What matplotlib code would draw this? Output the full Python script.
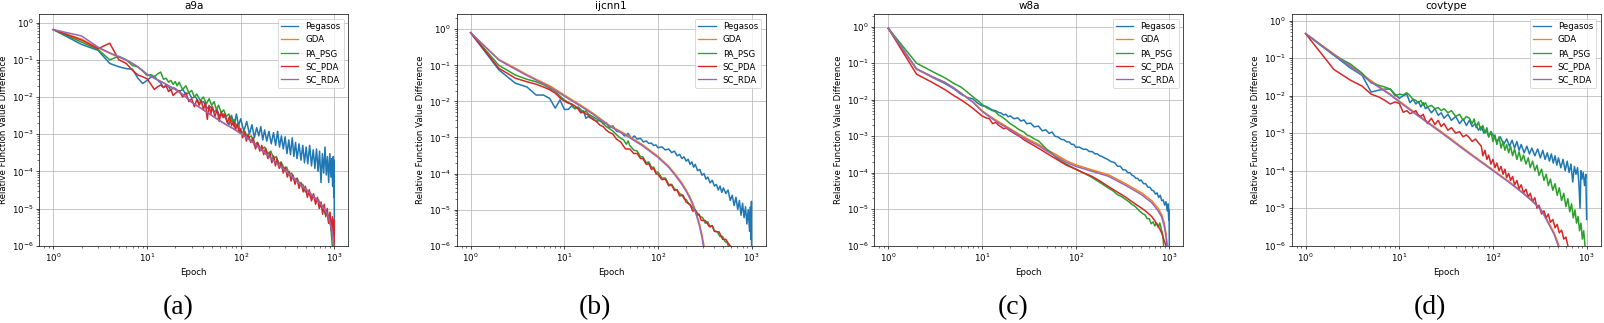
import matplotlib.pyplot as plt

# scale factor of the original 6.4x4.8in panels shrunk into this strip
s = 0.625
plt.rcParams.update({
    'font.size': 10 * s,
    'axes.titlesize': 12 * s,
    'axes.labelsize': 10 * s,
    'xtick.labelsize': 10 * s,
    'ytick.labelsize': 10 * s,
    'legend.fontsize': 10 * s,
    'lines.linewidth': 1.1,
    'axes.linewidth': 0.8 * s,
    'grid.linewidth': 0.8 * s,
    'patch.linewidth': 1.0 * s,
    'xtick.major.size': 3.5 * s, 'ytick.major.size': 3.5 * s,
    'xtick.minor.size': 2 * s, 'ytick.minor.size': 2 * s,
    'xtick.major.width': 0.8 * s, 'ytick.major.width': 0.8 * s,
    'xtick.minor.width': 0.6 * s, 'ytick.minor.width': 0.6 * s,
    'xtick.major.pad': 3.5 * s, 'ytick.major.pad': 3.5 * s,
    'axes.titlepad': 6 * s,
    'axes.labelpad': 4 * s,
})

methods = ['Pegasos', 'GDA', 'PA_PSG', 'SC_PDA', 'SC_RDA']
colors = ['C0', 'C1', 'C2', 'C3', 'C4']
datasets = ['a9a', 'ijcnn1', 'w8a', 'covtype']
sub_labels = ['(a)', '(b)', '(c)', '(d)']
ylim_top = [1.68, 2.6, 2.19, 1.48]

# ---------------- a9a ----------------
a9a_pegasos = [(1, .65), (2, .26), (3, .18), (4, .08), (5, .065), (6, .058), (7, .056), (8, .032), (9, .023),
               (10, .028), (11, .034), (12, .036), (13, .028), (14, .024), (15, .018), (16, .021), (17, .019),
               (18, .015), (19, .018), (20, .017), (22, .014), (24, .016), (26, .012), (28, .013), (30, .0095),
               (33, .01), (36, .007), (40, .0075), (44, .005), (48, .0055), (52, .004), (56, .0045), (60, .003),
               (65, .0035), (70, .0025), (75, .0018), (80, .0032), (85, .0016), (90, .0035), (95, .0017),
               (100, .0026), (108, .0012), (116, .0022), (124, .001), (132, .0018), (140, .0008), (148, .0015),
               (156, .0009), (164, .0016), (172, .0007), (180, .0013), (190, .00065), (200, .0012), (212, .00055),
               (224, .0011), (236, .0005), (248, .0012), (260, .00045), (272, .0009), (285, .0004), (298, .00085),
               (312, .0003), (326, .0007), (340, .00028), (355, .0008), (370, .00025), (385, .0006), (400, .00022),
               (420, .00055), (440, .0002), (460, .0005), (480, .00017), (500, .00045), (520, .00016), (545, .0005),
               (570, .00014), (595, .00038), (620, .00012), (645, .0004), (670, .0001), (695, .00035), (720, 5e-5),
               (745, .0003), (770, 9e-5), (795, .00045), (820, 8e-5), (845, .00025), (870, 5e-5), (895, .0003),
               (920, 7e-5), (940, .00022), (960, 4e-5), (975, .00025), (985, 2e-5), (995, .0002), (1000, 2e-6)]
a9a_gda = [(1, .65), (2, .36), (3, .21), (4, .15), (5, .118), (6, .098), (7, .079), (8, .064), (10, .041),
           (12, .032), (15, .024), (20, .016), (25, .011), (30, .0072), (40, .0045), (50, .0031), (60, .0023),
           (70, .0018), (80, .0015), (100, .00105), (130, .00065), (160, .00042), (190, .00028), (223, .0002),
           (260, .00014), (300, .000105), (336, 8e-5), (400, 5.5e-5), (450, 4e-5), (505, 3.2e-5), (600, 2.1e-5),
           (700, 1.4e-5), (760, 1.1e-5), (820, 8e-6), (863, 5.9e-6), (900, 4e-6), (933, 3e-6), (960, 2e-6),
           (980, 1.2e-6), (1000, 6e-7)]
a9a_pa_psg = [(1, .65), (2, .3), (3, .19), (4, .1), (5, .125), (6, .1), (7, .07), (8, .065), (9, .05), (10, .038),
              (11, .04), (12, .035), (13, .042), (14, .047), (15, .03), (16, .032), (17, .025), (18, .028),
              (19, .022), (20, .026), (21, .02), (22, .025), (24, .016), (26, .02), (28, .013), (30, .015),
              (32, .01), (34, .012), (37, .008), (40, .01), (43, .0065), (46, .009), (49, .006), (52, .0075),
              (55, .0045), (58, .006), (62, .0038), (66, .0045), (70, .003), (75, .0035), (80, .0022), (85, .0025),
              (90, .0016), (95, .0018), (100, .0011), (110, .0012), (120, .0008), (130, .0009), (140, .0005),
              (150, .0006), (165, .00038), (180, .00045), (195, .0003), (210, .00035), (225, .00022), (240, .00025),
              (255, .00016), (270, .00018), (290, .00012), (310, .00013), (330, 8e-5), (350, 9e-5), (375, 6e-5),
              (400, 6.5e-5), (430, 4.5e-5), (460, 4.5e-5), (490, 2.8e-5), (520, 3e-5), (560, 2e-5), (600, 2.2e-5),
              (640, 1.5e-5), (680, 1.7e-5), (720, 1.1e-5), (760, 1.2e-5), (800, 7e-6), (840, 8e-6), (870, 4e-6),
              (900, 5e-6), (930, 2e-6), (950, 1e-6), (970, 5e-7)]
a9a_sc_pda = [(1, .65), (2, .34), (3, .2), (4, .28), (5, .1), (6, .08), (7, .052), (8, .039), (9, .035), (10, .031),
              (11, .022), (12, .016), (13, .019), (14, .021), (15, .018), (16, .02), (17, .014), (18, .016),
              (19, .011), (20, .0125), (22, .015), (24, .01), (26, .013), (28, .0075), (30, .009), (32, .0055),
              (34, .0085), (36, .006), (38, .008), (40, .0045), (42, .007), (44, .0025), (46, .006), (48, .0035),
              (50, .0055), (53, .003), (56, .0045), (59, .0022), (62, .004), (65, .0028), (68, .0035), (72, .002),
              (76, .003), (80, .0017), (84, .0022), (88, .0013), (92, .0019), (96, .0011), (100, .0014),
              (105, .0008), (110, .0012), (115, .00065), (120, .001), (128, .0006), (136, .0008), (144, .0004),
              (152, .0006), (160, .00035), (168, .0005), (176, .00028), (185, .00042), (195, .00022), (205, .00032),
              (215, .00017), (225, .00026), (235, .00014), (245, .00022), (258, .00012), (270, .00017), (285, 9e-5),
              (300, .00013), (315, 7e-5), (330, .0001), (345, 5.5e-5), (360, 8e-5), (380, 4.5e-5), (400, 6.5e-5),
              (420, 3.5e-5), (440, 5e-5), (465, 2.8e-5), (490, 4e-5), (515, 2e-5), (540, 3.2e-5), (570, 1.6e-5),
              (600, 2.5e-5), (630, 1.3e-5), (660, 2e-5), (690, 1e-5), (720, 1.5e-5), (750, 7e-6), (780, 1.3e-5),
              (810, 6e-6), (840, 1e-5), (870, 4e-6), (900, 8e-6), (930, 2.5e-6), (955, 6e-6), (975, 1.8e-6),
              (990, 5e-6), (1000, 8e-7)]
a9a_sc_rda = [(1, .65), (2, .44), (3, .22), (4, .155), (5, .12), (6, .1), (7, .08), (8, .065), (10, .041),
              (12, .032), (15, .024), (20, .016), (25, .011), (30, .0072), (40, .0045), (50, .0031), (60, .0023),
              (70, .0018), (80, .0015), (100, .00105), (130, .00065), (160, .00042), (190, .00028), (223, .0002),
              (260, .00014), (300, .000105), (336, 8e-5), (400, 5.5e-5), (450, 4e-5), (505, 3.2e-5), (600, 2.1e-5),
              (700, 1.4e-5), (760, 1.1e-5), (820, 8e-6), (863, 5.9e-6), (900, 4e-6), (933, 3e-6), (960, 2e-6),
              (980, 1.2e-6), (1000, 6e-7)]

# ---------------- ijcnn1 ----------------
ijcnn1_pegasos = [(1, .8), (2, .075), (3, .032), (4, .025), (5, .015), (6, .015), (7, .012), (8, .0065), (9, .011),
                  (10, .006), (11, .006), (12, .0075), (13, .0062), (14, .0068), (15, .0052), (16, .0055),
                  (17, .0034), (18, .0038), (19, .0035), (20, .0034), (22, .0028), (24, .003), (26, .0024),
                  (28, .0026), (30, .0019), (33, .0021), (36, .0015), (40, .0014), (44, .0011), (48, .0013),
                  (52, .00095), (56, .0011), (60, .0009), (65, .00095), (70, .00075), (75, .0008), (80, .00068),
                  (85, .0007), (90, .0006), (95, .00062), (100, .00052), (110, .00055), (120, .00045), (130, .00048),
                  (140, .00038), (150, .00042), (160, .00031), (170, .00034), (180, .00026), (190, .00029),
                  (200, .00022), (210, .00025), (220, .00018), (230, .00021), (240, .00015), (250, .00018),
                  (265, .00012), (280, .00013), (295, 9e-5), (310, .0001), (325, 7e-5), (340, 8e-5), (360, 5.5e-5),
                  (380, 6.5e-5), (400, 4.5e-5), (420, 5e-5), (440, 3.5e-5), (460, 4.5e-5), (480, 3e-5), (500, 4e-5),
                  (530, 2.8e-5), (560, 3.5e-5), (590, 1.8e-5), (620, 2.5e-5), (650, 1.3e-5), (680, 2.2e-5),
                  (710, 1e-5), (740, 1.8e-5), (770, 7e-6), (800, 1.5e-5), (830, 6e-6), (860, 1.2e-5), (890, 4e-6),
                  (920, 1e-5), (950, 2.5e-6), (970, 1.2e-5), (985, 1.5e-6), (995, 1.7e-5), (1000, 5e-7)]
ijcnn1_gda = [(1, .8), (2, .145), (3, .083), (4, .055), (5, .041), (7, .027), (10, .015), (15, .0078), (20, .0048),
              (30, .0022), (46, .0012), (69, .00062), (100, .0003), (130, .00016), (156, 9e-5), (180, 5.5e-5),
              (200, 3.5e-5), (220, 2.2e-5), (235, 1.5e-5), (255, 8.5e-6), (276, 4.2e-6), (295, 2e-6), (310, 1e-6),
              (325, 5e-7)]
ijcnn1_pa_psg = [(1, .8), (2, .1), (3, .054), (4, .041), (5, .035), (6, .029), (7, .023), (8, .019), (9, .014),
                 (10, .011), (11, .0095), (12, .008), (13, .0065), (14, .007), (15, .006), (16, .0048), (17, .0055),
                 (18, .0045), (20, .0038), (22, .0033), (25, .0027), (28, .002), (30, .0018), (33, .0015),
                 (36, .0012), (40, .00095), (43, .00085), (46, .00065), (48, .0008), (50, .0006), (55, .00045),
                 (60, .00042), (65, .00029), (69, .00029), (75, .0002), (80, .00021), (85, .00015), (90, .00015),
                 (95, .00011), (100, .00011), (110, 7.5e-5), (120, 7.5e-5), (130, 5e-5), (140, 5e-5), (150, 3.7e-5),
                 (160, 3.5e-5), (170, 2.8e-5), (180, 2.6e-5), (190, 2e-5), (200, 1.9e-5), (215, 1.4e-5),
                 (230, 1.2e-5), (245, 1e-5), (260, 8.5e-6), (280, 6.5e-6), (300, 6e-6), (320, 4.2e-6),
                 (340, 4.6e-6), (360, 3.3e-6), (380, 3.5e-6), (400, 2.6e-6), (430, 2.4e-6), (460, 1.8e-6),
                 (490, 1.8e-6), (520, 1.3e-6), (550, 1.2e-6), (580, 8e-7), (600, 5e-7)]
ijcnn1_sc_pda = [(1, .8), (2, .083), (3, .044), (4, .035), (5, .03), (6, .025), (7, .021), (8, .017), (9, .0125),
                 (10, .0102), (11, .009), (12, .0085), (13, .0075), (14, .0062), (15, .0048), (16, .0052),
                 (17, .0045), (18, .0042), (20, .0032), (22, .0028), (24, .0022), (26, .002), (28, .0016),
                 (30, .0014), (33, .00125), (36, .0009), (40, .00075), (45, .00048), (50, .00048), (55, .00036),
                 (60, .00036), (65, .00026), (69, .00026), (75, .00018), (80, .00019), (85, .00013), (90, .00014),
                 (95, .0001), (100, 9.5e-5), (110, 6.8e-5), (120, 7e-5), (130, 4.6e-5), (140, 4.8e-5),
                 (150, 3.4e-5), (160, 3.5e-5), (170, 2.4e-5), (185, 2.5e-5), (200, 1.6e-5), (220, 1.4e-5),
                 (235, 9e-6), (250, 1e-5), (260, 7e-6), (275, 7.5e-6), (290, 5e-6), (320, 5e-6), (353, 3.4e-6),
                 (380, 3.6e-6), (400, 2.5e-6), (450, 2.4e-6), (490, 1.5e-6), (530, 1.5e-6), (570, 1.1e-6),
                 (615, 9e-7), (640, 5e-7)]
ijcnn1_sc_rda = [(1, .8), (2, .14), (3, .078), (4, .052), (5, .039), (7, .025), (10, .014), (15, .0073),
                 (20, .0045), (30, .0021), (46, .00112), (69, .00058), (100, .00028), (130, .00015), (156, 8.3e-5),
                 (180, 5e-5), (200, 3.2e-5), (220, 2e-5), (235, 1.35e-5), (255, 7.5e-6), (276, 3.7e-6),
                 (295, 1.7e-6), (305, 1e-6), (315, 5e-7)]

# ---------------- w8a ----------------
w8a_pegasos = [(1, .9), (2, .07), (3, .04), (4, .028), (5, .02), (6, .014), (7, .0115), (8, .0105), (9, .008),
               (10, .0068), (11, .0066), (12, .0058), (13, .0052), (14, .005), (15, .0045), (16, .0043),
               (17, .0038), (18, .004), (19, .0034), (20, .0036), (22, .003), (24, .0032), (26, .0026), (28, .0028),
               (30, .0022), (33, .0023), (36, .0018), (40, .0019), (44, .0014), (48, .0015), (52, .0012),
               (56, .0013), (60, .001), (65, .00095), (70, .00082), (75, .0008), (80, .0007), (85, .0007),
               (90, .0006), (95, .0006), (100, .0005), (110, .0005), (120, .00044), (130, .00044), (140, .00038),
               (150, .00038), (160, .00033), (170, .00033), (180, .00029), (190, .00028), (200, .00026),
               (220, .00023), (240, .0002), (260, .00019), (280, .00015), (300, .00015), (320, .00012),
               (340, .00012), (360, .0001), (380, .0001), (400, 8.5e-5), (420, 8e-5), (440, 7e-5), (460, 7e-5),
               (480, 6e-5), (500, 6.3e-5), (530, 5e-5), (560, 5e-5), (590, 4e-5), (620, 4e-5), (650, 3.3e-5),
               (680, 3.2e-5), (710, 2.6e-5), (740, 2.8e-5), (770, 2.1e-5), (800, 2.4e-5), (830, 1.7e-5),
               (860, 1.8e-5), (890, 1.3e-5), (920, 1.6e-5), (950, 9e-6), (970, 1.4e-5), (985, 5e-6), (995, 1e-5),
               (1000, 7e-7)]
w8a_gda = [(1, .9), (2, .068), (3, .041), (4, .03), (5, .021), (6, .015), (7, .0112), (8, .0087), (10, .005),
           (12, .0036), (15, .0025), (20, .0016), (25, .00113), (30, .00087), (40, .0006), (50, .00042),
           (65, .00029), (80, .00021), (100, .000165), (148, .00012), (223, 8.8e-5), (336, 5.1e-5), (505, 2.8e-5),
           (650, 1.7e-5), (760, 1.05e-5), (830, 7e-6), (880, 4.2e-6), (920, 2.2e-6), (955, 1e-6), (970, 6e-7)]
w8a_pa_psg = [(1, .9), (2, .1), (3, .058), (4, .04), (5, .028), (6, .022), (7, .016), (8, .012), (9, .0095),
              (10, .0075), (11, .0062), (12, .0055), (14, .0046), (15, .0038), (16, .0035), (18, .0028),
              (20, .0022), (22, .0019), (25, .0015), (28, .0013), (30, .0011), (33, .00098), (36, .00085),
              (40, .00075), (43, .00062), (46, .00052), (50, .00042), (55, .00035), (60, .00028), (65, .00024),
              (72, .0002), (80, .00017), (90, .000145), (100, .000125), (115, .000105), (130, 9e-5), (148, 7.5e-5),
              (170, 6e-5), (195, 4.8e-5), (223, 3.8e-5), (250, 3.2e-5), (280, 2.5e-5), (310, 2.2e-5),
              (336, 1.9e-5), (370, 1.6e-5), (400, 1.35e-5), (430, 1.2e-5), (460, 1e-5), (490, 8.5e-6),
              (520, 7.5e-6), (550, 7e-6), (580, 5.5e-6), (610, 5.5e-6), (640, 4e-6), (670, 4.5e-6), (700, 3.5e-6),
              (730, 4.2e-6), (760, 3.2e-6), (790, 4.2e-6), (820, 2.8e-6), (845, 2.2e-6), (865, 1.2e-6),
              (880, 6e-7)]
w8a_sc_pda = [(1, .9), (2, .05), (3, .029), (4, .019), (5, .013), (6, .0098), (7, .0075), (8, .0058), (9, .0045),
              (10, .0036), (11, .0032), (12, .003), (13, .0022), (14, .0024), (15, .002), (16, .0018), (17, .0016),
              (18, .0017), (20, .0014), (22, .0012), (25, .001), (28, .0008), (30, .00072), (36, .00055),
              (43, .00042), (50, .00033), (57, .00027), (65, .00022), (80, .00016), (100, .000125), (120, .0001),
              (148, 8e-5), (180, 6e-5), (223, 4.2e-5), (270, 3.1e-5), (336, 2.2e-5), (400, 1.6e-5), (450, 1.3e-5),
              (505, 1.07e-5), (570, 8.5e-6), (648, 6.3e-6), (700, 4.8e-6), (760, 3.4e-6), (800, 2.7e-6),
              (830, 2.2e-6), (880, 1.4e-6), (920, 1e-6), (935, 6e-7)]
w8a_sc_rda = [(1, .9), (2, .07), (3, .042), (4, .03), (5, .021), (6, .015), (7, .011), (8, .0085), (10, .0048),
              (12, .0034), (15, .0023), (20, .0015), (25, .00105), (30, .0008), (40, .00055), (50, .00038),
              (65, .00026), (80, .00019), (100, .00015), (148, .00011), (223, 8e-5), (336, 4.6e-5), (505, 2.5e-5),
              (650, 1.5e-5), (760, 9e-6), (830, 6e-6), (880, 3.5e-6), (920, 1.8e-6), (950, 8e-7)]

# ---------------- covtype ----------------
covtype_pegasos = [(1, .45), (2, .12), (3, .055), (4, .035), (5, .0125), (6, .014), (7, .015), (8, .015),
                   (9, .011), (10, .0085), (11, .01), (12, .011), (13, .0065), (14, .008), (15, .006), (16, .007),
                   (17, .005), (18, .0065), (19, .0045), (20, .005), (22, .0035), (24, .0045), (26, .003),
                   (28, .0035), (30, .0025), (33, .0032), (36, .0022), (40, .0028), (44, .0018), (48, .0024),
                   (52, .0016), (56, .0022), (60, .0015), (65, .0018), (70, .0012), (75, .0015), (80, .001),
                   (85, .0012), (90, .0008), (95, .0011), (100, .0009), (110, .0006), (120, .0008), (130, .0005),
                   (140, .0007), (150, .00045), (160, .00065), (170, .0004), (180, .0006), (190, .00035),
                   (200, .0005), (215, .0003), (230, .00045), (245, .00028), (260, .0004), (280, .00025),
                   (300, .00038), (320, .00022), (340, .00035), (360, .0002), (380, .0003), (400, .00018),
                   (420, .00028), (440, .00016), (460, .00025), (480, .00014), (500, .00022), (530, .00012),
                   (560, .0002), (590, .0001), (620, .00018), (650, 9e-5), (680, .00015), (710, 5e-5), (740, .00013),
                   (770, 8e-5), (800, .00012), (825, 5e-5), (850, 1e-5), (870, .0001), (890, 6e-5), (920, 9e-5),
                   (950, 4e-5), (980, 8e-5), (1000, 5e-6)]
covtype_gda = [(1, .45), (2, .13), (3, .063), (4, .037), (5, .025), (6, .018), (8, .011), (10, .0072),
               (15, .0034), (20, .002), (27, .00118), (34, .00077), (50, .00037), (70, .0002), (100, .000105),
               (150, 5e-5), (209, 2.6e-5), (265, 1.55e-5), (313, 1.05e-5), (340, 8e-6), (400, 3.8e-6), (450, 2.2e-6),
               (500, 1.1e-6), (530, 6e-7)]
covtype_pa_psg = [(1, .45), (2, .12), (3, .07), (4, .04), (5, .022), (6, .019), (7, .017), (8, .015), (9, .01),
                  (10, .011), (11, .0105), (12, .012), (13, .01), (14, .008), (15, .0075), (16, .0065),
                  (17, .0075), (18, .0055), (19, .0065), (20, .005), (22, .0055), (24, .0045), (26, .0048),
                  (28, .004), (30, .0045), (33, .0035), (36, .004), (40, .0028), (44, .0032), (48, .0022),
                  (52, .0028), (56, .0025), (60, .0018), (63, .0024), (66, .0014), (70, .002), (74, .0012),
                  (78, .0016), (82, .001), (86, .0014), (90, .0008), (95, .0011), (100, .0006), (105, .0009),
                  (110, .0005), (116, .0008), (122, .0004), (128, .0006), (134, .00035), (140, .0005),
                  (147, .0003), (154, .00045), (162, .00025), (170, .00038), (180, .0002), (190, .00032),
                  (200, .00018), (212, .00026), (225, .00015), (238, .00022), (250, .00012), (265, .00018),
                  (280, .0001), (295, .00014), (310, 7.5e-5), (330, .00011), (350, 5.5e-5), (370, 8e-5),
                  (390, 4e-5), (410, 6e-5), (435, 3e-5), (460, 4.5e-5), (485, 2.2e-5), (510, 3.5e-5),
                  (540, 1.6e-5), (570, 2.5e-5), (600, 1.1e-5), (630, 1.8e-5), (660, 8e-6), (690, 1.3e-5),
                  (720, 5.5e-6), (750, 9e-6), (780, 4e-6), (810, 6e-6), (840, 2.5e-6), (870, 4e-6), (900, 1.5e-6),
                  (930, 2.5e-6), (960, 1e-6), (980, 5e-7)]
covtype_sc_pda = [(1, .45), (2, .05), (3, .026), (4, .018), (5, .011), (6, .0093), (7, .0075), (8, .006),
                  (9, .0068), (10, .0062), (11, .0036), (12, .004), (13, .0033), (14, .0036), (15, .004),
                  (16, .003), (17, .0028), (18, .0032), (19, .0022), (20, .0018), (22, .0025), (24, .0017),
                  (26, .0022), (28, .0015), (30, .0018), (33, .0012), (36, .0014), (40, .001), (44, .0011),
                  (48, .0008), (52, .0009), (56, .00075), (60, .0006), (65, .0007), (70, .00055), (75, .00045),
                  (78, .00025), (82, .00035), (86, .0002), (90, .00026), (95, .00015), (100, .0002), (105, .00012),
                  (110, .00016), (116, .0001), (122, .00013), (128, 8e-5), (134, .00011), (140, 6.5e-5),
                  (147, 8.5e-5), (154, 5.5e-5), (162, 7e-5), (170, 4.2e-5), (180, 5.5e-5), (190, 3.3e-5),
                  (200, 4.2e-5), (212, 2.6e-5), (225, 3.2e-5), (238, 2e-5), (250, 2.5e-5), (265, 1.5e-5),
                  (280, 1.9e-5), (295, 1e-5), (310, 1.2e-5), (330, 7e-6), (350, 8.5e-6), (370, 5.5e-6),
                  (390, 7e-6), (410, 4.2e-6), (435, 5e-6), (460, 3e-6), (485, 3.7e-6), (510, 2.2e-6),
                  (540, 2.6e-6), (570, 1.5e-6), (600, 1.7e-6), (630, 1e-6), (660, 7e-7)]
covtype_sc_rda = [(1, .45), (2, .125), (3, .06), (4, .035), (5, .023), (6, .017), (8, .0105), (10, .0068),
                  (15, .0032), (20, .0019), (27, .0011), (34, .00072), (50, .00035), (70, .00019), (100, .0001),
                  (150, 4.8e-5), (209, 2.5e-5), (265, 1.5e-5), (313, 1e-5), (340, 7.5e-6), (400, 3.5e-6),
                  (450, 2e-6), (490, 1.1e-6), (520, 6e-7)]

curves = {
    'a9a': [a9a_pegasos, a9a_gda, a9a_pa_psg, a9a_sc_pda, a9a_sc_rda],
    'ijcnn1': [ijcnn1_pegasos, ijcnn1_gda, ijcnn1_pa_psg, ijcnn1_sc_pda, ijcnn1_sc_rda],
    'w8a': [w8a_pegasos, w8a_gda, w8a_pa_psg, w8a_sc_pda, w8a_sc_rda],
    'covtype': [covtype_pegasos, covtype_gda, covtype_pa_psg, covtype_sc_pda, covtype_sc_rda],
}

W, H = 1604, 323
fig = plt.figure(figsize=(W / 100, H / 100), dpi=100)

lefts = [39.3, 456.6, 874.3, 1291.6]
for i, name in enumerate(datasets):
    ax = fig.add_axes([lefts[i] / W, 77.3 / H, 309.1 / W, 231.4 / H])
    for pts, label, c in zip(curves[name], methods, colors):
        ep = [p[0] for p in pts]
        val = [p[1] for p in pts]
        ax.plot(ep, val, color=c, label=label)
    ax.set_xscale('log')
    ax.set_yscale('log')
    ax.set_xlim(10 ** -0.15, 10 ** 3.15)
    ax.set_ylim(1e-6, ylim_top[i])
    ax.grid(True, which='major')
    ax.set_title(name)
    ax.set_xlabel('Epoch')
    ax.set_ylabel('Relative Function Value Difference')
    leg = ax.legend(loc='upper right')
    for line in leg.get_lines():
        line.set_linewidth(1.5 * s)
    fig.text((lefts[i] + 138.5) / W, 1 - 308 / H, sub_labels[i], ha='center', va='center',
             fontsize=20, family='Liberation Serif')

plt.savefig('out.png', dpi=100)
